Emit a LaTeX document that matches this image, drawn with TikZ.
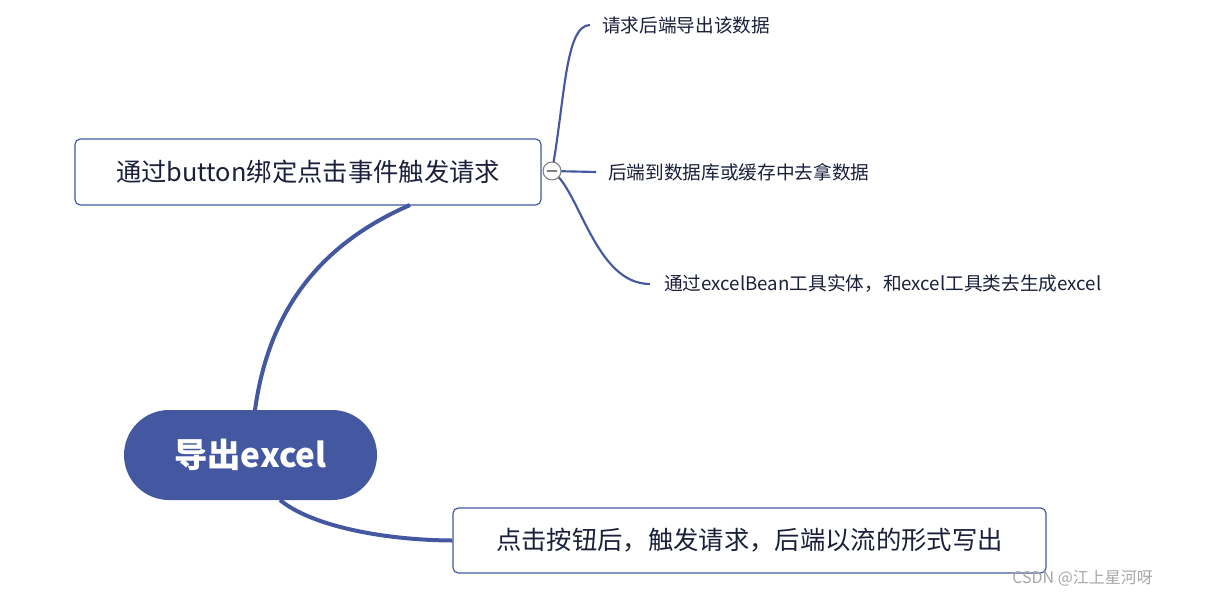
\documentclass[tikz,border=0pt]{standalone}
\usepackage{fontspec}
\setmainfont{Noto Sans CJK SC}
\definecolor{mblue}{HTML}{4358A0}
\definecolor{dtext}{HTML}{1A1F3A}
\begin{document}
\begin{tikzpicture}[x=0.75pt,y=-0.75pt,
  box/.style={draw=mblue,line width=0.9pt,rounded corners=4pt,inner sep=0pt,text=dtext},
  leaf/.style={anchor=west,text=dtext,font=\fontsize{14}{16}\selectfont,inner sep=0pt},
  br/.style={draw=mblue,line width=1.6pt},
  thick/.style={draw=mblue,line width=3pt}]
\useasboundingbox (0,0) rectangle (1209,597);
\node[fill=mblue,rounded corners=33.75pt,minimum width=253*0.75pt,minimum height=90*0.75pt,text=white,font=\fontsize{25}{28}\selectfont\bfseries] (root) at (250.5,455) {导出excel};
\node[box,minimum width=466*0.75pt,minimum height=66*0.75pt,font=\fontsize{19}{22}\selectfont] (n1) at (308,172) {通过button绑定点击事件触发请求};
\node[box,minimum width=593*0.75pt,minimum height=65*0.75pt,font=\fontsize{19}{22}\selectfont] (n2) at (749.5,540.5) {点击按钮后，触发请求，后端以流的形式写出};
\coordinate (c) at (552,171);
\node[leaf] (l1) at (602,25) {请求后端导出该数据};
\node[leaf] (l2) at (608,172) {后端到数据库或缓存中去拿数据};
\node[leaf] (l3) at (664,284) {通过excelBean工具实体，和excel工具类去生成excel};
\draw[thick] (255,410) .. controls (270,300) and (330,240) .. (410,205);
\draw[thick] (280,500) .. controls (310,525) and (380,540) .. (n2.west);
\draw[br] (c) .. controls (565,100) and (565,25) .. (590,25);
\draw[br] (c) -- (596,172);
\draw[br] (c) .. controls (580,190) and (595,284) .. (650,284);
\draw[draw=gray,fill=white,line width=0.8pt] (c) circle[radius=9*0.75pt];
\draw[gray,line width=0.8pt] (547,171) -- (557,171);
\node[anchor=west,text=gray!70,font=\fontsize{12}{14}\selectfont,inner sep=0pt] (wm) at (1012,578) {CSDN @江上星河呀};
\end{tikzpicture}
\end{document}
